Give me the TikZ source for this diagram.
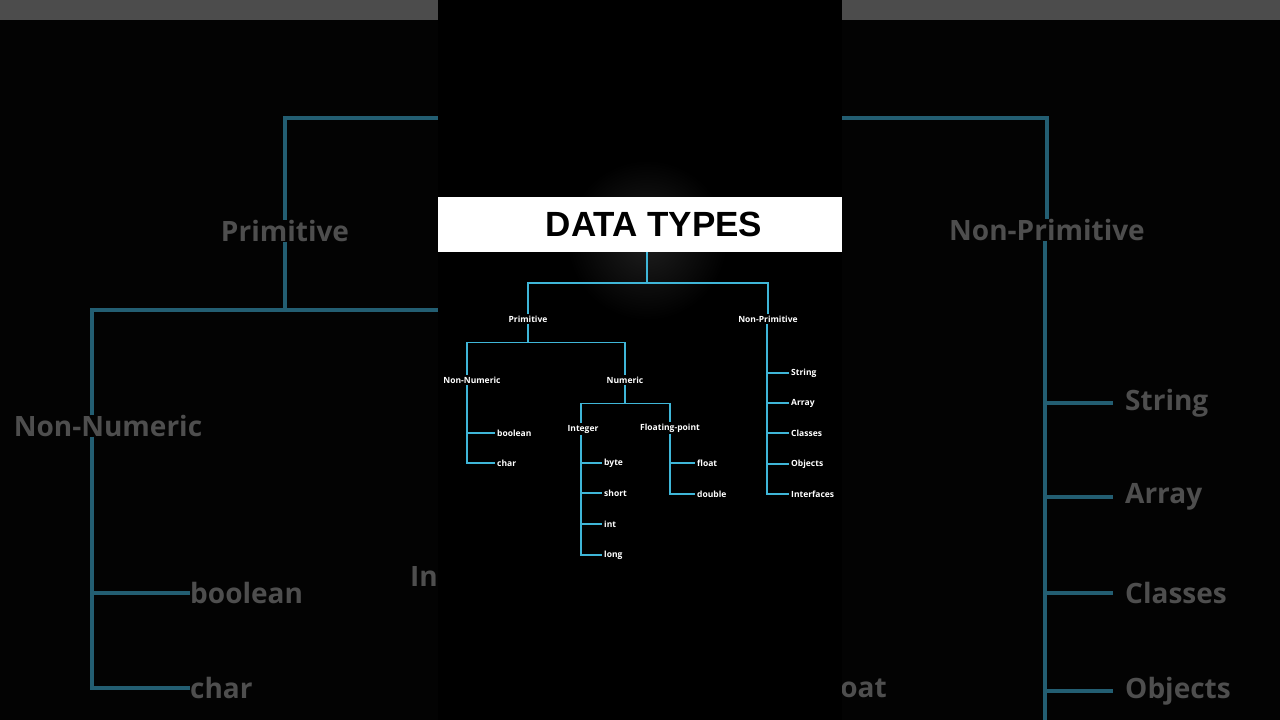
\documentclass[tikz,border=0pt]{standalone}
\usepackage{fontspec}
\setmainfont{Open Sans}
\newfontfamily\titlefont{Liberation Sans}
\definecolor{linkblue}{HTML}{3FB6D8}
\definecolor{dimblue}{HTML}{235E72}
\definecolor{dimtext}{HTML}{4E4E4E}
\begin{document}
\begin{tikzpicture}[x=1pt,y=-1pt,
		link/.style={draw=linkblue,line width=1.6pt},
		dimlink/.style={draw=dimblue,line width=4pt},
		lbl/.style={text=white,font=\fontsize{8.5}{10}\selectfont\bfseries,inner sep=2pt},
		leaf/.style={lbl,anchor=west},
		bgtext/.style={text=dimtext,font=\fontsize{28}{32}\selectfont\bfseries,inner sep=0pt}]
	\useasboundingbox (0,0) rectangle (1280,720);
	\fill[black!99!white] (0,0) rectangle (1280,720);
	\fill[black!70!white] (0,0) rectangle (1280,20);
	% blurred copy behind, left side
	\node (bgprim) [bgtext] at (285,231) {Primitive};
	\node (bgnonnum) [bgtext] at (108,426) {Non-Numeric};
	\node (bgbool) [bgtext,anchor=west] at (190,593) {boolean};
	\node (bgchar) [bgtext,anchor=west] at (190,688) {char};
	\node (bgint) [bgtext,anchor=west] at (410,580) {Integer};
	\coordinate (bgtopL) at (438,118);
	\coordinate (bgmidL) at (438,310);
	\draw[dimlink] (bgtopL) -| (bgprim.north);
	\draw[dimlink] (bgprim.south) |- (bgmidL);
	\draw[dimlink] (bgmidL) -| ([xshift=-16]bgnonnum.north);
	\draw[dimlink] ([xshift=-16]bgnonnum.south) |- (bgbool.west);
	\draw[dimlink] ([xshift=-16]bgnonnum.south) |- (bgchar.west);
	% blurred copy behind, right side
	\node (bgnonprim) [bgtext] at (1047,230) {Non-Primitive};
	\node (bgfloat) [bgtext,anchor=east] at (887,687) {float};
	\coordinate (bgtopR) at (842,118);
	\coordinate (bgend) at (1045,720);
	\draw[dimlink] (bgtopR) -| (bgnonprim.north);
	\draw[dimlink] ([xshift=-2]bgnonprim.south) -- ([xshift=-2]bgnonprim.south |- bgend);
	\foreach \nm/\yy in {String/403,Array/497,Classes/593,Objects/691}
		\node (bg\nm) [bgtext,anchor=west] at (1125,\yy) {\nm};
	\foreach \nm in {String,Array,Classes,Objects}
		\draw[dimlink] ([xshift=-2]bgnonprim.south |- bg\nm.west) -- ([xshift=-12]bg\nm.west);
	% center panel
	\fill[black] (438,0) rectangle (842,720);
	\fill[inner color=white!12!black,outer color=black] (647,240) circle (80);
	\node (title) [fill=white,minimum width=404,minimum height=55,inner sep=0pt,
		font=\titlefont\fontsize{35}{40}\selectfont\bfseries] at (640,224.5) {\hspace{28pt}DATA TYPES};
	\node (prim) [lbl] at (528,319) {Primitive};
	\node (nonprim) [lbl] at (768,319) {Non-Primitive};
	\node (nonnum) [lbl] at (472,380) {Non-Numeric};
	\node (num) [lbl] at (625,380) {Numeric};
	\node (integer) [lbl] at (583,429) {Integer};
	\node (floatpt) [lbl] at (670,428) {Floating-point};
	\node (boolean) [leaf] at (495,433) {boolean};
	\node (char) [leaf] at (495,463) {char};
	\node (byte) [leaf] at (602,463) {byte};
	\node (short) [leaf] at (602,493) {short};
	\node (int) [leaf] at (602,524) {int};
	\node (long) [leaf] at (602,555) {long};
	\node (float) [leaf] at (695,463) {float};
	\node (double) [leaf] at (695,494) {double};
	\node (string) [leaf] at (789,373) {String};
	\node (array) [leaf] at (789,403) {Array};
	\node (classes) [leaf] at (789,433) {Classes};
	\node (objects) [leaf] at (789,464) {Objects};
	\node (interfaces) [leaf] at (789,494) {Interfaces};
	\draw[link] ([xshift=7]title.south) -- ++(0,31) -| (prim.north);
	\draw[link] ([xshift=7]title.south) -- ++(0,31) -| (nonprim.north);
	\draw[link] (prim.south) -- ++(0,18) -| ([xshift=-5]nonnum.north);
	\draw[link] (prim.south) -- ++(0,18) -| (num.north);
	\draw[link] (num.south) -- ++(0,18) -| ([xshift=-2]integer.north);
	\draw[link] (num.south) -- ++(0,18) -| (floatpt.north);
	\foreach \leafnode in {boolean,char}
		\draw[link] ([xshift=-5]nonnum.south) |- (\leafnode.west);
	\foreach \leafnode in {byte,short,int,long}
		\draw[link] ([xshift=-2]integer.south) |- (\leafnode.west);
	\foreach \leafnode in {float,double}
		\draw[link] (floatpt.south) |- (\leafnode.west);
	\foreach \leafnode in {string,array,classes,objects,interfaces}
		\draw[link] ([xshift=-1]nonprim.south) |- (\leafnode.west);
\end{tikzpicture}
\end{document}
